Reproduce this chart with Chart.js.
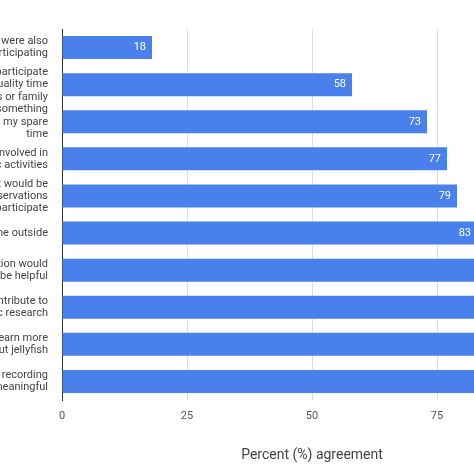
<!DOCTYPE html><html><head><script src="https://cdn.jsdelivr.net/npm/chart.js@4"></script>
<style>html,body{margin:0;width:474px;height:474px;overflow:hidden;background:#fff}#w{position:absolute;left:-188px;top:0;width:780px;height:474px}</style></head><body><div id="w"><canvas id="c"></canvas></div>
<script>
const categories=[["I knew people who were also","participating"],["I wanted to participate","to spend quality time","with friends or family"],["I wanted to do something","useful with my spare","time"],["I enjoy being involved in","scientific activities"],["I believed it would be","useful to make observations","and participate"],["I enjoy spending time outside"],["I thought my contribution would","be helpful"],["I wanted to contribute to","scientific research"],["I wanted to learn more","about jellyfish"],["I believe recording","jellyfish is meaningful"]];
const values=[18,58,73,77,79,83,86,89,92,95];
const xTicks=[0,25,50,75,100];
const valPlugin={id:'vals',afterDatasetsDraw(ch){const c=ch.ctx;const m=ch.getDatasetMeta(0);c.save();c.fillStyle='#fff';c.font='11px Roboto';c.textAlign='right';c.textBaseline='middle';m.data.forEach((b,i)=>c.fillText(values[i],b.x-6,b.y));c.restore();}};
new Chart(document.getElementById('c'),{type:'bar',data:{labels:categories,datasets:[{data:values,backgroundColor:'#4a80ec',barPercentage:0.62,categoryPercentage:1}]},
options:{indexAxis:'y',responsive:true,maintainAspectRatio:false,animation:false,layout:{padding:{top:29,right:30,bottom:6}},plugins:{legend:{display:false},tooltip:{enabled:false}},
scales:{y:{afterFit(s){s.width=250},grid:{display:false},border:{color:'#333'},ticks:{autoSkip:false,color:'#444',font:{size:11,family:'Roboto',lineHeight:1.1},padding:6}},
x:{min:0,max:100,afterBuildTicks(s){s.ticks=xTicks.map(v=>({value:v}))},grid:{color:'#ddd',drawTicks:false},border:{display:false},ticks:{color:'#555',font:{size:11,family:'Roboto'},padding:10},title:{display:true,text:'Percent (%) agreement',color:'#444',font:{size:14,family:'Roboto'},padding:{top:14}}}}},plugins:[valPlugin]});
</script></body></html>
